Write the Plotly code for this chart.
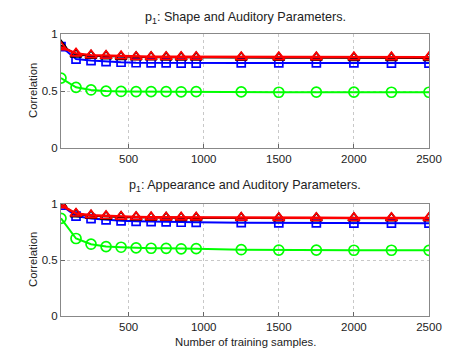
import plotly.graph_objects as go

# Data
n_samples = [50, 150, 250, 350, 450, 550, 650, 750, 850, 950, 1250, 1500, 1750, 2000, 2250, 2500]

shape_red = [0.885, 0.83, 0.815, 0.81, 0.805, 0.80, 0.80, 0.80, 0.80, 0.80, 0.798, 0.797, 0.797, 0.796, 0.796, 0.796]
shape_black = [0.90, 0.82, 0.81, 0.805, 0.80, 0.797, 0.796, 0.795, 0.794, 0.794, 0.793, 0.792, 0.792, 0.791, 0.79, 0.79]
shape_blue = [0.89, 0.78, 0.767, 0.758, 0.752, 0.748, 0.747, 0.746, 0.744, 0.745, 0.746, 0.746, 0.746, 0.746, 0.745, 0.745]
shape_green = [0.613, 0.532, 0.509, 0.499, 0.496, 0.495, 0.494, 0.494, 0.493, 0.494, 0.492, 0.489, 0.490, 0.490, 0.489, 0.489]

app_red = [0.99, 0.915, 0.90, 0.893, 0.888, 0.885, 0.882, 0.881, 0.880, 0.880, 0.878, 0.877, 0.877, 0.876, 0.876, 0.876]
app_black = [0.995, 0.91, 0.895, 0.888, 0.884, 0.881, 0.879, 0.878, 0.877, 0.876, 0.875, 0.874, 0.874, 0.873, 0.873, 0.873]
app_blue = [0.99, 0.892, 0.870, 0.858, 0.850, 0.845, 0.842, 0.840, 0.837, 0.836, 0.833, 0.832, 0.831, 0.830, 0.830, 0.829]
app_green = [0.872, 0.692, 0.641, 0.620, 0.614, 0.608, 0.605, 0.604, 0.600, 0.601, 0.592, 0.589, 0.588, 0.587, 0.587, 0.586]

x_ticks = [500, 1000, 1500, 2000, 2500]
y_ticks = [0, 0.5, 1]

titles = ["p<sub>1</sub>: Shape and Auditory Parameters.",
          "p<sub>1</sub>: Appearance and Auditory Parameters."]
y_title = "Correlation"
x_title = "Number of training samples."

fig = go.Figure()

W, H = 474, 355
xdom = [61 / W, 429 / W]
ydom_top = [1 - 148 / H, 1 - 34 / H]
ydom_bot = [1 - 316 / H, 1 - 204 / H]

def add_set(red, black, blue, green, xa, ya):
    common = dict(x=n_samples, mode="lines+markers", xaxis=xa, yaxis=ya, showlegend=False, hoverinfo="skip")
    fig.add_trace(go.Scatter(y=green, line=dict(color="#00ff00", width=2),
                             marker=dict(symbol="circle-open", size=10, line=dict(width=1.7, color="#00ff00")), **common))
    fig.add_trace(go.Scatter(y=blue, line=dict(color="#0000ff", width=2),
                             marker=dict(symbol="square-open", size=8, line=dict(width=1.7, color="#0000ff")), **common))
    fig.add_trace(go.Scatter(y=black, line=dict(color="#000000", width=2),
                             marker=dict(symbol="triangle-up-open", size=10, line=dict(width=1.7, color="#000000")), **common))
    fig.add_trace(go.Scatter(y=red, line=dict(color="#ff0000", width=2.4),
                             marker=dict(symbol="triangle-up-open", size=10, line=dict(width=1.7, color="#ff0000")), **common))

add_set(shape_red, shape_black, shape_blue, shape_green, "x", "y")
add_set(app_red, app_black, app_blue, app_green, "x2", "y2")

FONT = "Liberation Sans, Arial, sans-serif"
tick_font = dict(family=FONT, size=11.5, color="#222")

xcommon = dict(range=[50, 2500], tickvals=x_ticks, ticks="inside", ticklen=4, tickcolor="#666",
               showline=True, linecolor="#888", linewidth=1, mirror=True,
               showgrid=True, gridcolor="#c8c8c8", griddash="dot", gridwidth=1,
               zeroline=False, tickfont=tick_font, domain=xdom, automargin=False)
ycommon = dict(range=[0, 1], tickvals=y_ticks, ticktext=["0", "0.5", "1"], ticks="inside", ticklen=4, tickcolor="#666",
               showline=True, linecolor="#888", linewidth=1, mirror=True,
               showgrid=True, gridcolor="#c8c8c8", griddash="dot", gridwidth=1,
               zeroline=False, tickfont=tick_font, automargin=False)

def ann(text, xpx, ypx, size=11.3, angle=0):
    return dict(text=text, x=xpx / W, y=1 - ypx / H, xref="paper", yref="paper",
                showarrow=False, font=dict(family=FONT, size=size, color="#222"),
                xanchor="center", yanchor="middle", textangle=angle)

xc = (61 + 429) / 2

fig.update_layout(
    template="none",
    width=W, height=H,
    margin=dict(l=0, r=0, t=0, b=0, pad=0),
    paper_bgcolor="white", plot_bgcolor="white",
    font=dict(family=FONT, color="#222"),
    hovermode=False,
    xaxis=dict(**xcommon, anchor="y"),
    yaxis=dict(**ycommon, domain=ydom_top, anchor="x"),
    xaxis2=dict(**xcommon, anchor="y2"),
    yaxis2=dict(**ycommon, domain=ydom_bot, anchor="x2"),
    annotations=[
        ann(titles[0], xc, 18, size=12.6),
        ann(titles[1], xc, 186, size=12.6),
        ann(y_title, 33, 91, angle=-90),
        ann(y_title, 33, 260, angle=-90),
        ann(x_title, xc, 342),
    ],
)

fig.write_html("out.html", config={"displayModeBar": False, "staticPlot": True},
               post_script="document.body.style.margin='0';document.body.style.overflow='hidden';")
